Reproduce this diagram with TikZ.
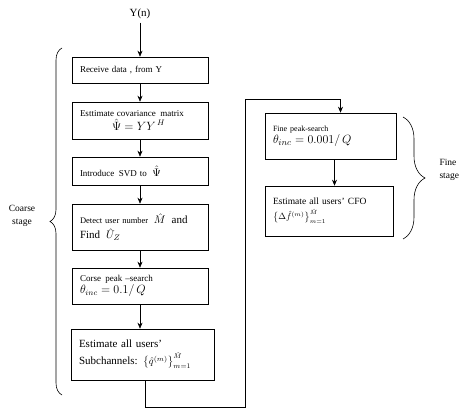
\documentclass[tikz,border=0pt]{standalone}
\usepackage{amsmath, amssymb}
\usepackage{fontspec}
\setmainfont{Liberation Serif}
\usepackage{tikz}
\usetikzlibrary{arrows.meta, positioning, decorations.pathreplacing, calc}

\newcommand{\bigtxt}{\fontsize{11}{13}\selectfont}
\newcommand{\smalltxt}{\fontsize{8.5}{10}\selectfont}

\begin{document}
\begin{tikzpicture}[
    x=1pt, y=-1pt,
    box/.style={
        rectangle, draw, line width=0.6pt,
        inner xsep=8pt, inner ysep=3pt,
        align=left, font=\fontsize{9}{11}\selectfont
    },
    arr/.style={-{Stealth[length=6pt,width=5pt]}, line width=0.6pt},
    brc/.style={decorate, decoration={brace, amplitude=#1}, line width=0.6pt},
    lbl/.style={font=\fontsize{9.5}{13}\selectfont, align=left}
]
    \useasboundingbox (0,0) rectangle (474,415);

    % coarse stage (left column)
    \node[font=\bigtxt] (yn) at (140,14) {Y(n)};
    \node[box, text width=120pt, minimum height=26pt] (recv) at (140,70)
        {Receive data , from Y};
    \node[box, text width=120pt, minimum height=37pt] (covar) at (140,120.5)
        {Esttimate covariance\, matrix\\[1pt]
         \hspace*{32pt}{\fontsize{12}{14}\selectfont $\hat{\Psi} = YY^{\,H}$}};
    \node[box, text width=120pt, minimum height=28pt] (svd) at (140,171)
        {Introduce\, SVD to\; {\bigtxt $\hat{\Psi}$}};
    \node[box, text width=120pt, minimum height=46pt] (detect) at (140,227)
        {{\smalltxt Detect user number}\; {\bigtxt $\hat{M}$\; and}\\[4pt]
         {\bigtxt Find\; $\hat{U}_{Z}$}};
    \node[box, text width=120pt, minimum height=36pt] (coarse) at (140,286)
        {Corse\, peak --search\\[1pt]
         {\fontsize{12}{14}\selectfont $\theta_{inc} = 0.1/\,Q$}};
    \node[box, text width=127pt, minimum height=51pt, font=\bigtxt] (subch) at (142.5,354.5)
        {Estimate all users'\\[4pt]
         Subchannels: {\fontsize{10}{12}\selectfont $\bigl\{\hat{q}^{(m)}\bigr\}_{m=1}^{\hat{M}}$}};

    % fine stage (right column)
    \node[box, text width=115pt, minimum height=46pt] (finesearch) at (330.5,136)
        {{\fontsize{8}{10}\selectfont Fine peak-search}\\[1pt]
         {\fontsize{13}{15}\selectfont $\theta_{inc} = 0.001/\,Q$}};
    \node[box, text width=112pt, minimum height=50pt, font=\fontsize{9.5}{12}\selectfont] (cfo) at (329,211)
        {Estimate all users' CFO\\[3pt]
         {\fontsize{9}{11}\selectfont $\bigl\{\Delta\hat{f}^{(m)}\bigr\}_{m=1}^{\hat{M}}$}};

    \draw[arr] (yn) -- (recv);
    \draw[arr] (recv) -- (covar);
    \draw[arr] (covar) -- (svd);
    \draw[arr] (svd) -- (detect);
    \draw[arr] (detect) -- (coarse);
    \draw[arr] (coarse.south) -- (coarse.south |- subch.north);

    \coordinate (lowturn) at (245,407);
    \coordinate (highturn) at (245,99);
    \draw[arr] ([xshift=3pt]subch.south) |- (lowturn) -- (highturn)
        -| ([xshift=10pt]finesearch.north);
    \draw[arr] ([xshift=4pt]finesearch.south) -- ([xshift=4pt]finesearch.south |- cfo.north);

    % stage braces
    \coordinate (coarsetop) at (62,48);
    \coordinate (coarsebot) at (62,395);
    \draw[brc=12pt] (coarsebot) -- (coarsetop);
    \node[lbl, align=center] (coarselbl) at (22,216) {Coarse\\stage};

    \coordinate (finetop) at (403,117);
    \coordinate (finebot) at (403,239);
    \draw[brc=22pt] (finetop) -- (finebot);
    \node[lbl, anchor=west] (finelbl) at (436,170) {Fine\\stage};
\end{tikzpicture}
\end{document}
